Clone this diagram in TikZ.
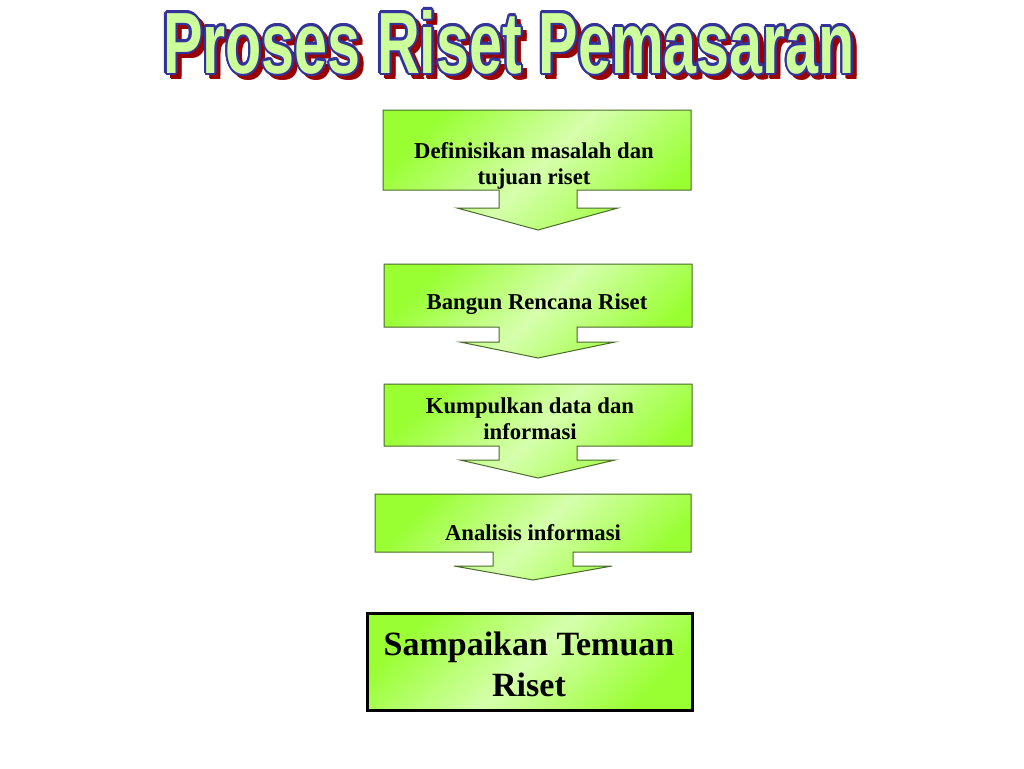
\documentclass[tikz,border=0pt]{standalone}
\usepackage{fontspec}
\usepackage{graphicx}
\setmainfont{Liberation Serif}
\newfontfamily\titlefont{Liberation Sans}
\definecolor{brightG}{HTML}{99FF33}
\definecolor{paleG}{HTML}{D6FFAD}
\definecolor{edgeG}{HTML}{4A6B2A}
\definecolor{titleG}{HTML}{CCFF99}
\definecolor{titleB}{HTML}{333399}
\definecolor{titleR}{HTML}{990000}
\newcommand{\mytitle}{{\titlefont\bfseries\fontsize{58}{60}\selectfont\scalebox{1.022}[1.5]{Proses Riset Pemasaran}}}
\tikzset{
  callbox/.style={draw=edgeG, line width=1pt, top color=brightG, bottom color=brightG, middle color=paleG, shading angle=45},
  lastbox/.style={draw=black, line width=3pt, top color=brightG, bottom color=brightG, middle color=paleG, shading angle=45},
  smalltxt/.style={font=\bfseries\fontsize{22.7}{26}\selectfont, align=center, inner sep=0pt},
  bigtxt/.style={font=\bfseries\fontsize{34}{41}\selectfont, align=center, inner sep=0pt},
  ttl/.style={anchor=base, inner sep=0pt}
}
\begin{document}
\begin{tikzpicture}[x=1pt,y=-1pt]
\useasboundingbox[fill=white] (0,0) rectangle (1024,768);
% title: shadow, outline, fill
\foreach \dx/\dy [count=\i] in {4/4,5/5,3/5,5/3,6/6,4/6,6/4}
  \node[ttl, text=titleR] (tsh\i) at (509+\dx,73+\dy) {\mytitle};
\foreach \a [count=\i] in {0,22.5,...,337.5}
  \node[ttl, text=titleB] (tol\i) at ({509+2.2*cos(\a)},{73+2.2*sin(\a)}) {\mytitle};
\node[ttl, text=titleG] (title) at (509,73) {\mytitle};
% callouts
\path[callbox] (383,110) -- (691,110) -- (691,190) -- (577,190) -- (577,208) -- (618,208)
  -- (538,230) -- (457,208) -- (499,208) -- (499,190) -- (383,190) -- cycle;
\path[callbox] (384,264) -- (692,264) -- (692,327) -- (577,327) -- (577,342) -- (615,342)
  -- (538,358) -- (460,342) -- (499,342) -- (499,327) -- (384,327) -- cycle;
\path[callbox] (384,384) -- (692,384) -- (692,446) -- (577,446) -- (577,460) -- (615,460)
  -- (538,478) -- (460,460) -- (499,460) -- (499,446) -- (384,446) -- cycle;
\path[callbox] (375,494) -- (691,494) -- (691,552) -- (573,552) -- (573,566) -- (612,566)
  -- (533,580) -- (454,566) -- (493,566) -- (493,552) -- (375,552) -- cycle;
\path[lastbox] (367,613) rectangle (692,710);
% texts
\node[smalltxt] (s1) at (534,166) {Definisikan masalah dan\\tujuan riset};
\node[smalltxt] (s2) at (537,304) {Bangun Rencana Riset};
\node[smalltxt] (s3) at (530,419) {Kumpulkan data dan\\informasi};
\node[smalltxt] (s4) at (533,533) {Analisis informasi};
\node[bigtxt] (s5) at (529,664) {Sampaikan Temuan\\Riset};
\end{tikzpicture}
\end{document}
